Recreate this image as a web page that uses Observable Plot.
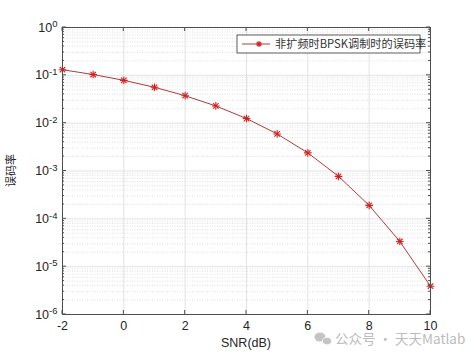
<!DOCTYPE html>
<html>
<head>
<meta charset="utf-8">
<script src="https://cdn.jsdelivr.net/npm/d3@7"></script>
<script src="https://cdn.jsdelivr.net/npm/@observablehq/plot@0.6"></script>
<style>
  html, body { margin: 0; padding: 0; background: #fff; }
  #chart { position: relative; width: 474px; height: 355px; }
</style>
</head>
<body>
<div id="chart"></div>
<script>
// ---- data ----
const snr = [-2, -1, 0, 1, 2, 3, 4, 5, 6, 7, 8, 9, 10];
const ber = [0.131, 0.104, 0.0786, 0.0563, 0.0375, 0.0229, 0.0125, 0.00595, 0.00239, 0.000773, 0.000191, 0.0000336, 0.0000039];
const xTicks = [-2, 0, 2, 4, 6, 8, 10];
const yExponents = [0, -1, -2, -3, -4, -5, -6];
const seriesLabel = "非扩频时BPSK调制时的误码率";
const xLabel = "SNR(dB)";
const yLabel = "误码率";
const watermark = "公众号 · 天天Matlab";

const yTicks = yExponents.map(e => Math.pow(10, e));
const yMinor = [];
for (const e of yExponents.slice(1)) for (let k = 2; k <= 9; k++) yMinor.push(k * Math.pow(10, e));
const data = snr.map((s, i) => ({snr: s, ber: ber[i]}));

const lineColor = "#b23a3a";
const markColor = "#d42020";
const axisColor = "#4d4d4d";

const chart = Plot.plot({
  width: 474, height: 355,
  marginLeft: 62, marginRight: 44, marginTop: 27, marginBottom: 41,
  style: {fontFamily: "'Liberation Sans', Arial, sans-serif", fontSize: "12.5px", color: "#262626", background: "#fff"},
  x: {domain: [-2, 10], ticks: xTicks, tickSize: 0, tickPadding: 7, label: null, tickFormat: d => d < 0 ? "-" + Math.abs(d) : String(d)},
  y: {type: "log", domain: [1e-6, 1], ticks: yTicks, tickSize: 0, tickPadding: 5, label: null, tickFormat: d => "10^" + Math.round(Math.log10(d))},
  marks: [
    Plot.ruleY(yMinor, {stroke: "#d8d8d8", strokeWidth: 0.8, strokeDasharray: "1,1.5"}),
    Plot.ruleY(yTicks, {stroke: "#e2e2e2", strokeWidth: 1}),
    Plot.ruleX(xTicks, {stroke: "#e2e2e2", strokeWidth: 1}),
    Plot.line(data, {x: "snr", y: "ber", stroke: lineColor, strokeWidth: 1}),
    Plot.dot(data, {x: "snr", y: "ber", symbol: "plus", r: 2.6, stroke: markColor, strokeWidth: 1.1}),
    Plot.dot(data, {x: "snr", y: "ber", symbol: "times", r: 2.6, stroke: markColor, strokeWidth: 1.1}),
    Plot.frame({stroke: axisColor, strokeWidth: 1})
  ]
});

const root = d3.select(chart);
const xs = chart.scale("x"), ys = chart.scale("y");
const X = v => xs.apply(v), Y = v => ys.apply(v);
const x0 = X(-2), x1 = X(10), y0 = Y(1e-6), y1 = Y(1);

const g = root.append("g").attr("stroke", axisColor).attr("stroke-width", 1);
for (const t of xTicks) {
  g.append("line").attr("x1", X(t)).attr("x2", X(t)).attr("y1", y0).attr("y2", y0 - 4);
  g.append("line").attr("x1", X(t)).attr("x2", X(t)).attr("y1", y1).attr("y2", y1 + 4);
}
for (const t of yTicks) {
  g.append("line").attr("x1", x0).attr("x2", x0 + 4).attr("y1", Y(t)).attr("y2", Y(t));
  g.append("line").attr("x1", x1).attr("x2", x1 - 4).attr("y1", Y(t)).attr("y2", Y(t));
}
for (const t of yMinor) {
  g.append("line").attr("x1", x0).attr("x2", x0 + 2).attr("y1", Y(t)).attr("y2", Y(t));
  g.append("line").attr("x1", x1).attr("x2", x1 - 2).attr("y1", Y(t)).attr("y2", Y(t));
}

// superscript y tick labels
root.selectAll("text").each(function() {
  const t = d3.select(this);
  const s = t.text();
  if (/^10\^-?\d+$/.test(s)) {
    const e = s.split("^")[1];
    t.text("");
    t.append("tspan").text("10");
    t.append("tspan").attr("dy", "-0.45em").attr("font-size", "9.5px").text(e);
  }
});

// axis labels
root.append("text").attr("x", (x0 + x1) / 2).attr("y", 347).attr("text-anchor", "middle")
  .attr("font-size", "12.5px").attr("fill", "#262626").text(xLabel);
root.append("text").attr("transform", `translate(15,${(y0 + y1) / 2}) rotate(-90)`).attr("text-anchor", "middle")
  .attr("font-family", "'Noto Sans CJK SC', sans-serif").attr("font-size", "11px").attr("fill", "#262626").text(yLabel);

// legend
const lg = root.append("g");
const lx = 237, ly = 35, lw = 183, lh = 18;
lg.append("rect").attr("x", lx).attr("y", ly).attr("width", lw).attr("height", lh)
  .attr("fill", "#fff").attr("stroke", "#333").attr("stroke-width", 0.8);
lg.append("line").attr("x1", lx + 5).attr("x2", lx + 33).attr("y1", ly + lh / 2).attr("y2", ly + lh / 2)
  .attr("stroke", lineColor).attr("stroke-width", 1);
const mx = lx + 22, my = ly + lh / 2;
lg.append("path").attr("d", `M${mx-3},${my}H${mx+3}M${mx},${my-3}V${my+3}M${mx-2.2},${my-2.2}L${mx+2.2},${my+2.2}M${mx-2.2},${my+2.2}L${mx+2.2},${my-2.2}`)
  .attr("stroke", markColor).attr("stroke-width", 1.1).attr("fill", "none");
lg.append("text").attr("x", lx + 38).attr("y", ly + lh / 2 + 4).attr("text-anchor", "start")
  .attr("font-family", "'Noto Sans CJK SC', sans-serif").attr("font-size", "11.2px").attr("fill", "#333").text(seriesLabel);

// watermark
const wg = root.append("g").attr("fill", "#c4c4c4");
wg.append("ellipse").attr("cx", 320).attr("cy", 337).attr("rx", 5.5).attr("ry", 4.6);
wg.append("ellipse").attr("cx", 327).attr("cy", 341).attr("rx", 4.6).attr("ry", 3.8).attr("stroke", "#fff").attr("stroke-width", 0.8);
wg.append("text").attr("x", 335).attr("y", 344).attr("text-anchor", "start")
  .attr("font-family", "'Noto Sans CJK SC', sans-serif").attr("font-size", "13.5px").attr("fill", "#bcbcbc").text(watermark);

document.getElementById("chart").appendChild(chart);
</script>
</body>
</html>
